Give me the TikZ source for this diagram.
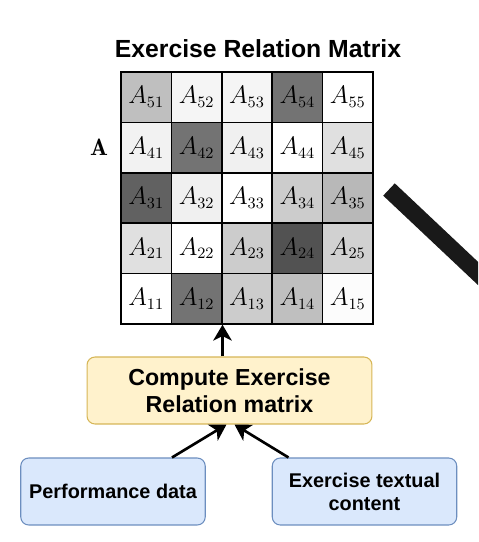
\documentclass[tikz,border=0pt]{standalone}
\usepackage{amsmath}
\usepackage{fontspec}
\usepackage{tikz}
\usetikzlibrary{arrows.meta,calc,positioning}
\newfontfamily\boxfont{Liberation Sans}
\definecolor{procfill}{HTML}{FFF2CC}
\definecolor{procdraw}{HTML}{D6B656}
\definecolor{srcfill}{HTML}{DAE8FC}
\definecolor{srcdraw}{HTML}{6C8EBF}

\begin{document}
\begin{tikzpicture}[x=0.02cm,y=-0.02cm]
% Styles
\tikzset{
    cell/.style={draw=black, line width=0.8pt, minimum size=1.008cm,
        inner sep=0pt, font=\fontsize{13.5}{15}\selectfont},
    process/.style={draw=procdraw, fill=procfill, line width=0.6pt,
        rounded corners=0.16cm, minimum width=5.7cm, minimum height=1.34cm,
        align=center, font={\boxfont\bfseries\fontsize{13.2}{15.1}\selectfont}},
    source/.style={draw=srcdraw, fill=srcfill, line width=0.6pt,
        rounded corners=0.16cm, minimum width=3.69cm, minimum height=1.34cm,
        align=center, font={\boxfont\bfseries\fontsize{11.3}{13.2}\selectfont}},
    flow/.style={line width=1.5pt, -{Stealth[length=9pt,width=10.5pt,inset=2.5pt]}},
}
% Picture size
\useasboundingbox (0,0) rectangle (478,542);
% Title
\node
[
    font={\boxfont\bfseries\fontsize{14.1}{16}\selectfont}
] (title) at (258,48.5) {Exercise Relation Matrix};
% Matrix cells
\foreach \row/\shades in {5/{25,4,4,55,0},4/{5,55,6,0,12},3/{62,6,0,20,28},2/{12,0,20,68,18},1/{0,55,20,25,1}}
    \foreach \shade [count=\col] in \shades
        \node[cell, fill=black!\shade] (a\row\col) at ({121+(\col-0.5)*50.4},{72+(5.5-\row)*50.4}) {$A_{\row\col}$};
\node
[
    left=0.24cm of a41,
    inner sep=0pt,
    font=\fontsize{13.5}{15}\selectfont
] (mlabel) {$\mathbf{A}$};
% Boxes
\node[process] (compute) at (229.5,390.5) {Compute Exercise\\Relation matrix};
\node[source] (perf) at (113,491.5) {Performance data};
\node[source] (content) at (364.5,491.5) {Exercise textual\\content};
% Arrows
\draw[flow] (compute.north -| a12.south east) -- (a12.south east);
\draw[flow] ($(perf.north)+(59,0)$) -- ($(compute.south)+(-3,0)$);
\draw[flow] ($(content.north)+(-76,0)$) -- ($(compute.south)+(5,0)$);
% Cropped link on the right
\begin{scope}
\clip (0,0) rectangle (478,542);
\coordinate (linkstart) at (389,189.5);
\coordinate (linkend) at (520,313);
\draw[line width=9.6pt, black!90] (linkstart) -- (linkend);
\end{scope}
\end{tikzpicture}
\end{document}
